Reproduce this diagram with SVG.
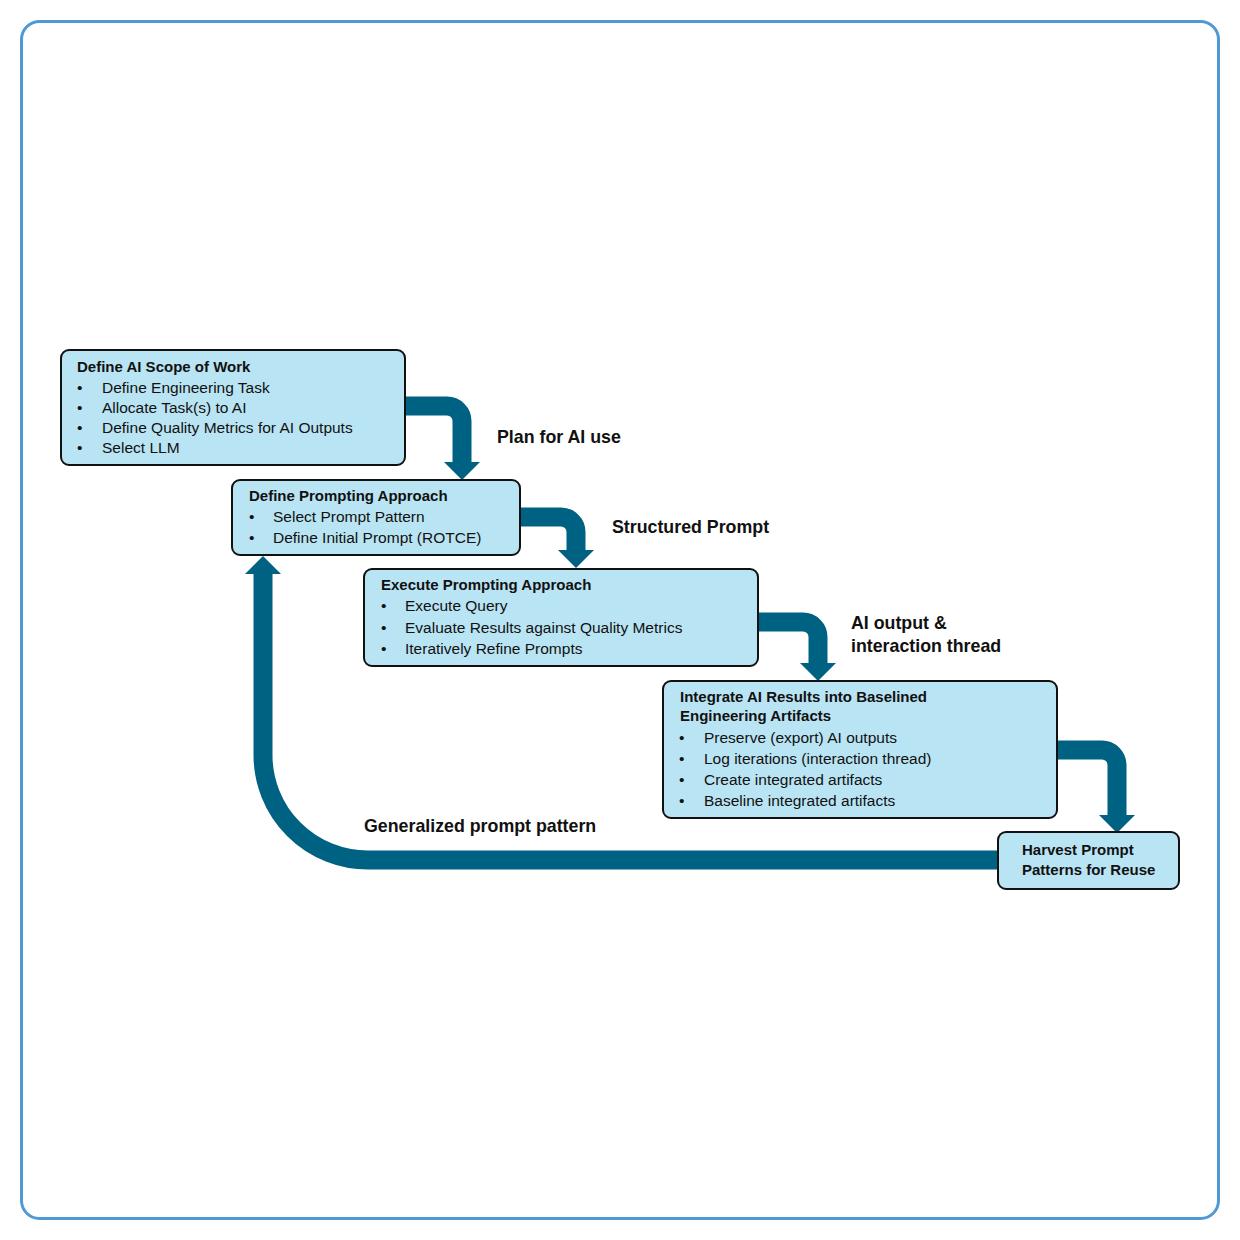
<svg xmlns="http://www.w3.org/2000/svg" width="1240" height="1240" viewBox="0 0 1240 1240">
<defs>
<style>
.frame{fill:#fff;stroke:#4f9ad6;stroke-width:3}
.box{fill:#b9e4f4;stroke:#111;stroke-width:2}
.t{font-family:"Liberation Sans",Arial,sans-serif;font-size:15.5px;fill:#111}
.b{font-weight:bold;font-size:15px}
.lbl{font-family:"Liberation Sans",Arial,sans-serif;font-size:17.8px;font-weight:bold;fill:#111}
.flow{fill:none;stroke:#006283;stroke-width:19}
.head{fill:#006283}
</style>
</defs>
<rect class="frame" x="21.5" y="21.5" width="1197" height="1197" rx="18"/>
<g id="connectors">
<path class="flow" d="M404,406 H447 A15,15 0 0 1 462,421 V464"/>
<polygon class="head" points="444,462 480,462 462,480"/>
<path class="flow" d="M519,517 H561 A15,15 0 0 1 576,532 V552"/>
<polygon class="head" points="558,550 594,550 576,568"/>
<path class="flow" d="M757,622 H803 A15,15 0 0 1 818,637 V665"/>
<polygon class="head" points="800,663 836,663 818,681"/>
<path class="flow" d="M1056,750 H1102 A15,15 0 0 1 1117,765 V817"/>
<polygon class="head" points="1099,815 1135,815 1117,833"/>
<path class="flow" d="M999,860 H368 A105,105 0 0 1 263,755 V571"/>
<polygon class="head" points="245,574 281,574 263,556"/>
</g>
<g id="n1">
<rect class="box" x="61" y="350" width="344" height="115" rx="8"/>
<text class="t b" x="77" y="372">Define AI Scope of Work</text>
<text class="t" x="77" y="393">•</text><text class="t" x="102" y="393">Define Engineering Task</text>
<text class="t" x="77" y="413">•</text><text class="t" x="102" y="413">Allocate Task(s) to AI</text>
<text class="t" x="77" y="433">•</text><text class="t" x="102" y="433">Define Quality Metrics for AI Outputs</text>
<text class="t" x="77" y="453">•</text><text class="t" x="102" y="453">Select LLM</text>
</g>
<g id="n2">
<rect class="box" x="232" y="480" width="288" height="75" rx="8"/>
<text class="t b" x="249" y="501">Define Prompting Approach</text>
<text class="t" x="249" y="522">•</text><text class="t" x="273" y="522">Select Prompt Pattern</text>
<text class="t" x="249" y="543">•</text><text class="t" x="273" y="543">Define Initial Prompt (ROTCE)</text>
</g>
<g id="n3">
<rect class="box" x="364" y="569" width="394" height="97" rx="8"/>
<text class="t b" x="381" y="590">Execute Prompting Approach</text>
<text class="t" x="381" y="611">•</text><text class="t" x="405" y="611">Execute Query</text>
<text class="t" x="381" y="633">•</text><text class="t" x="405" y="633">Evaluate Results against Quality Metrics</text>
<text class="t" x="381" y="654">•</text><text class="t" x="405" y="654">Iteratively Refine Prompts</text>
</g>
<g id="n4">
<rect class="box" x="663" y="681" width="394" height="137" rx="8"/>
<text class="t b" x="680" y="702">Integrate AI Results into Baselined</text>
<text class="t b" x="680" y="721">Engineering Artifacts</text>
<text class="t" x="679" y="743">•</text><text class="t" x="704" y="743">Preserve (export) AI outputs</text>
<text class="t" x="679" y="764">•</text><text class="t" x="704" y="764">Log iterations (interaction thread)</text>
<text class="t" x="679" y="785">•</text><text class="t" x="704" y="785">Create integrated artifacts</text>
<text class="t" x="679" y="806">•</text><text class="t" x="704" y="806">Baseline integrated artifacts</text>
</g>
<g id="n5">
<rect class="box" x="998" y="832" width="181" height="57" rx="8"/>
<text class="t b" x="1022" y="855">Harvest Prompt</text>
<text class="t b" x="1022" y="875">Patterns for Reuse</text>
</g>
<g id="labels">
<text class="lbl" x="497" y="443">Plan for AI use</text>
<text class="lbl" x="612" y="533">Structured Prompt</text>
<text class="lbl" x="851" y="629">AI output &amp;</text>
<text class="lbl" x="851" y="652">interaction thread</text>
<text class="lbl" x="364" y="832">Generalized prompt pattern</text>
</g>
</svg>
